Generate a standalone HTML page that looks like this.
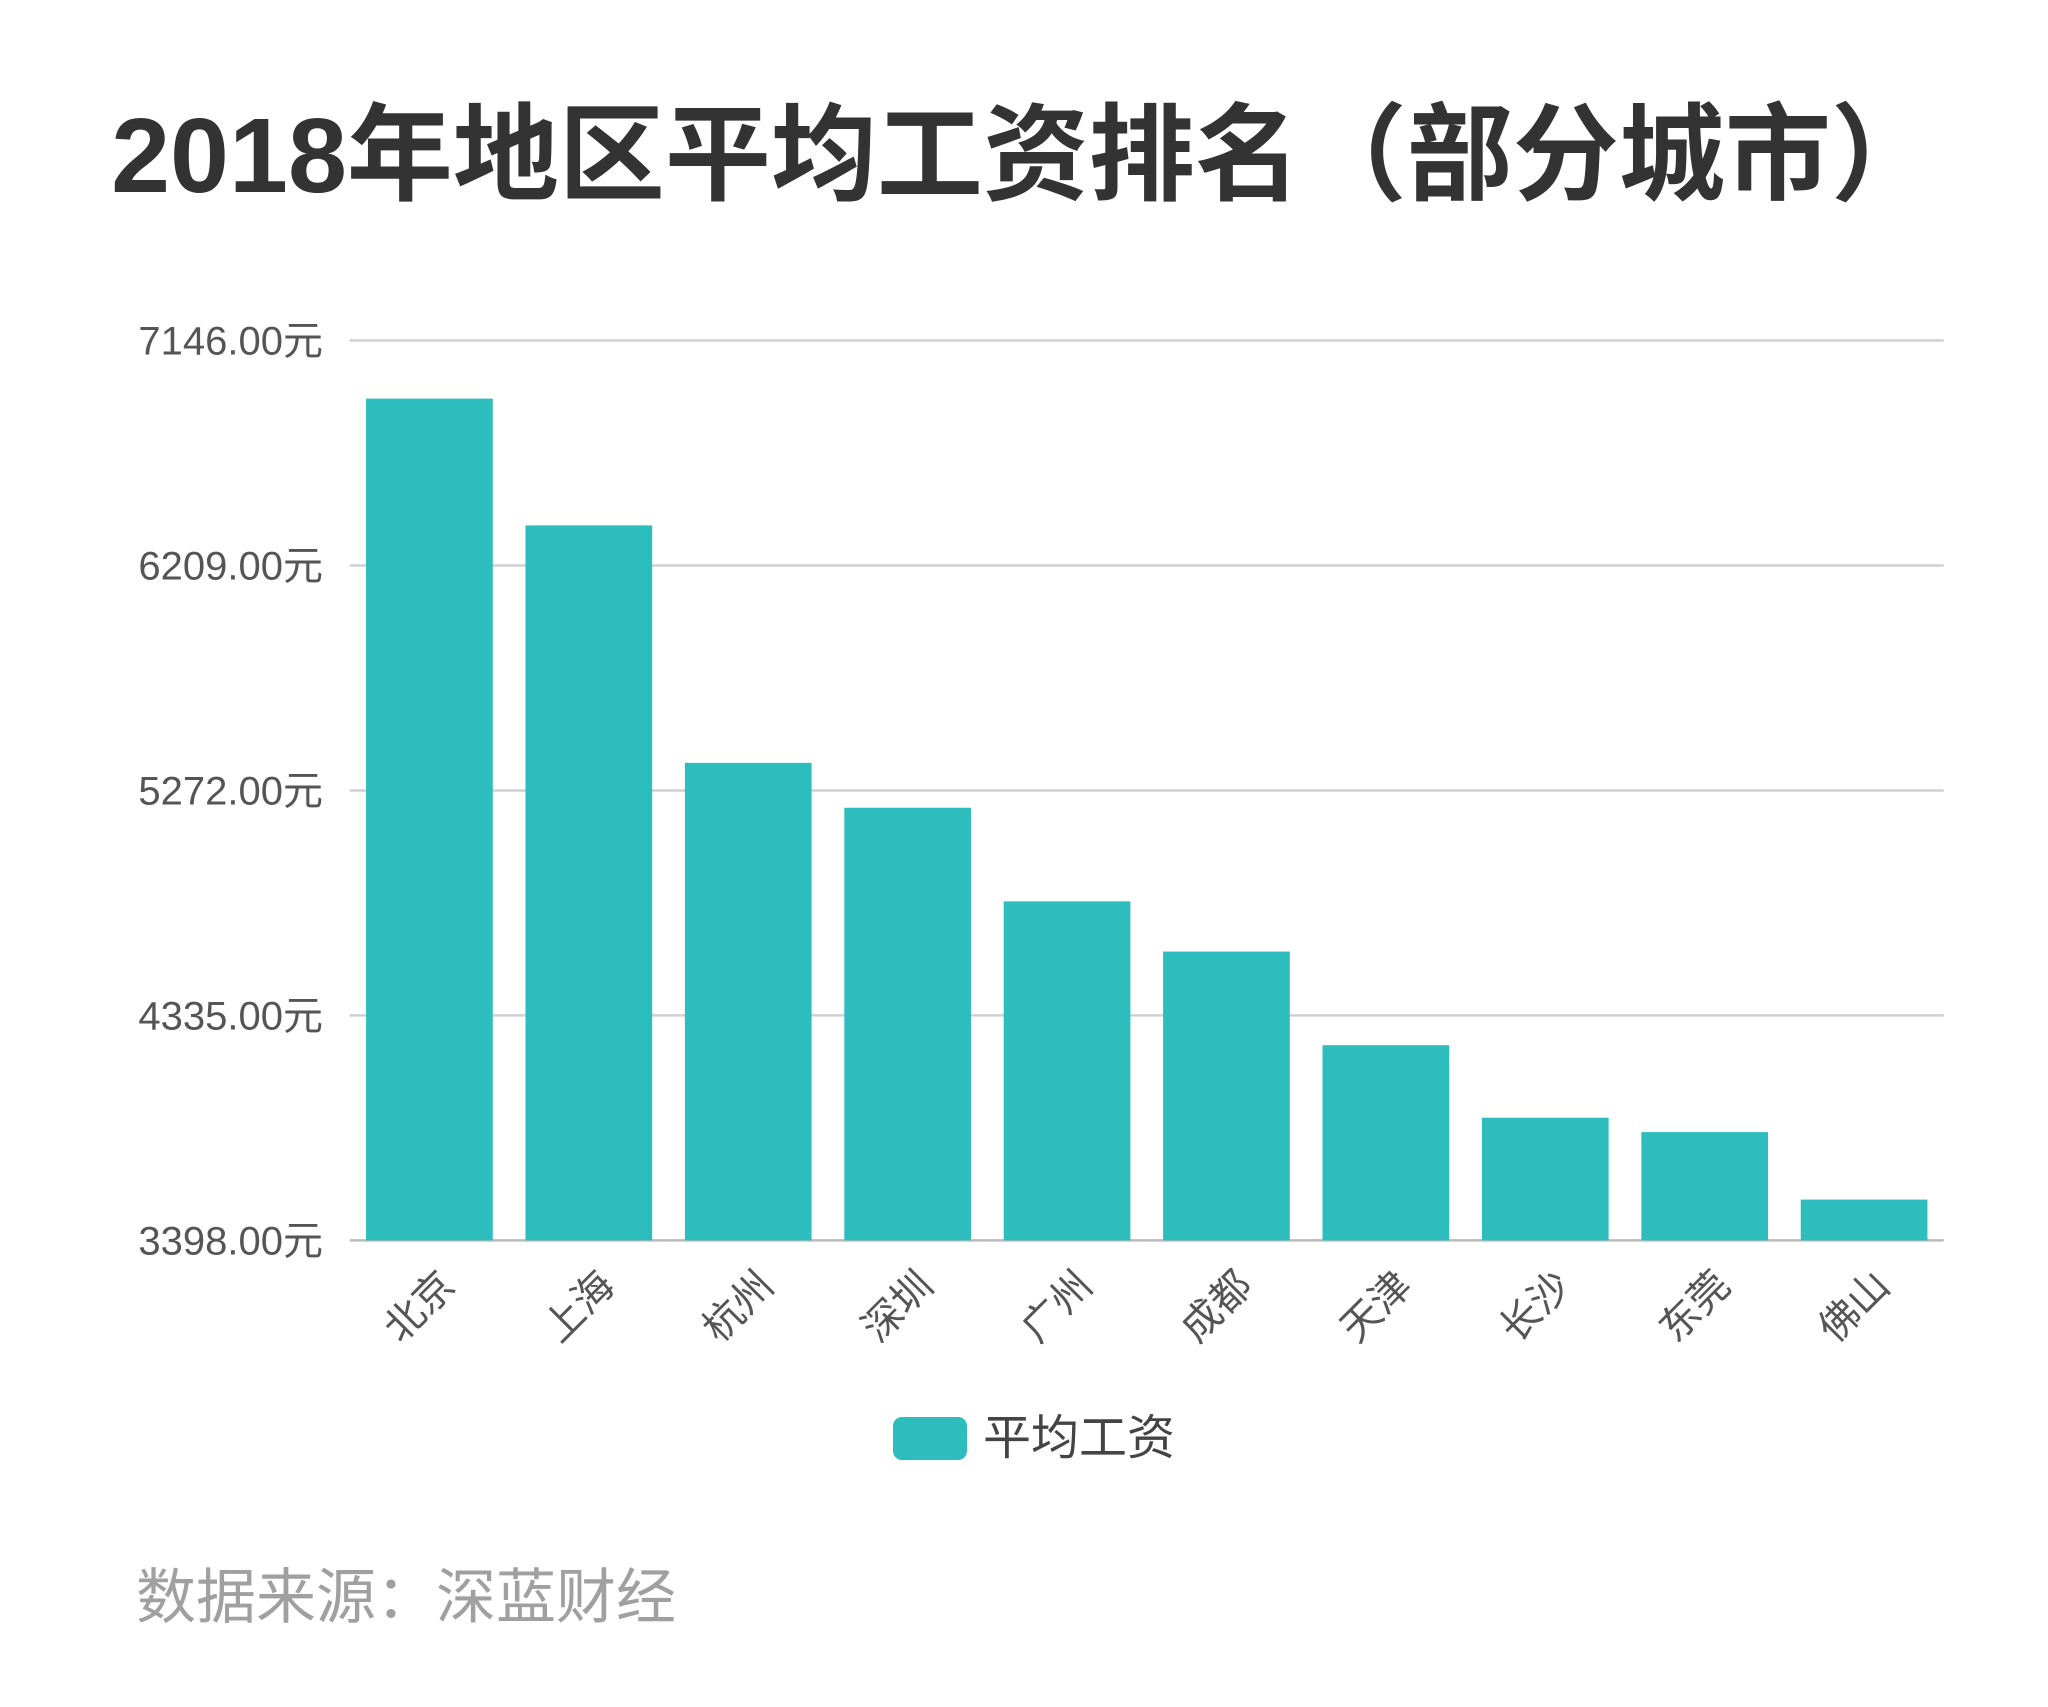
<!DOCTYPE html>
<html><head><meta charset="utf-8"><style>
body{margin:0;background:#fff;}
svg text{font-family:"Liberation Sans","Noto Sans CJK SC",sans-serif;}
</style></head><body>
<svg width="2048" height="1702" viewBox="0 0 2048 1702" xmlns="http://www.w3.org/2000/svg">
<rect width="2048" height="1702" fill="#fff"/>
<text x="1024" y="192" text-anchor="middle" font-size="106" font-weight="bold" fill="#333">2018年地区平均工资排名（部分城市）</text>
<g id="grid"></g><g id="bars"></g><g id="xlabels"></g>
<g>
<rect x="893" y="1417" width="74" height="43" rx="9" fill="#2dbdbd"/>
<text x="983" y="1454" font-size="48" fill="#444">平均工资</text>
</g>
<text x="136" y="1618" font-size="60" fill="#a0a0a0">数据来源：深蓝财经</text>
</svg>
<script>
const categories=["北京","上海","杭州","深圳","广州","成都","天津","长沙","东莞","佛山"];
const values=[6904,6376,5387,5200,4810,4601,4211,3909,3849,3568];
const ticks=[3398,4335,5272,6209,7146];
const tickLabels=["3398.00元","4335.00元","5272.00元","6209.00元","7146.00元"];
const NS="http://www.w3.org/2000/svg";
const x0=349.7,x1=1943.8,yMin=3398,yMax=7146,yb=1240.4,yt=340.5;
const y=v=>yb-(v-yMin)/(yMax-yMin)*(yb-yt);
const step=(x1-x0)/categories.length,bw=126.7;
const g=document.getElementById('grid'),b=document.getElementById('bars'),xl=document.getElementById('xlabels');
ticks.forEach((t,i)=>{
 const l=document.createElementNS(NS,'line');
 l.setAttribute('x1',x0);l.setAttribute('x2',x1);l.setAttribute('y1',y(t));l.setAttribute('y2',y(t));
 l.setAttribute('stroke',i===0?'#bbb':'#d0d0d0');l.setAttribute('stroke-width','2.5');
 
 
 g.appendChild(l);
 const tx=document.createElementNS(NS,'text');
 tx.setAttribute('x',323);tx.setAttribute('y',y(t)+14);tx.setAttribute('text-anchor','end');
 tx.setAttribute('font-size','40');tx.setAttribute('fill','#555');tx.textContent=tickLabels[i];
 
 
 g.appendChild(tx);
});
categories.forEach((c,i)=>{
 const cx=x0+step*i+step/2;
 const r=document.createElementNS(NS,'rect');
 r.setAttribute('x',cx-bw/2);r.setAttribute('y',y(values[i]));r.setAttribute('width',bw);r.setAttribute('height',yb-y(values[i]));
 r.setAttribute('fill','#2dbdbd');
 
 
 b.appendChild(r);
 const t=document.createElementNS(NS,'text');
 t.setAttribute('x',cx+8);t.setAttribute('y',1268);t.setAttribute('text-anchor','end');
 t.setAttribute('font-size','40');t.setAttribute('fill','#555');
 t.setAttribute('transform','rotate(-45 '+(cx+8)+' 1268)');t.setAttribute('dominant-baseline','hanging');
 t.textContent=c;
 
 
 xl.appendChild(t);
});
</script>
</body></html>
